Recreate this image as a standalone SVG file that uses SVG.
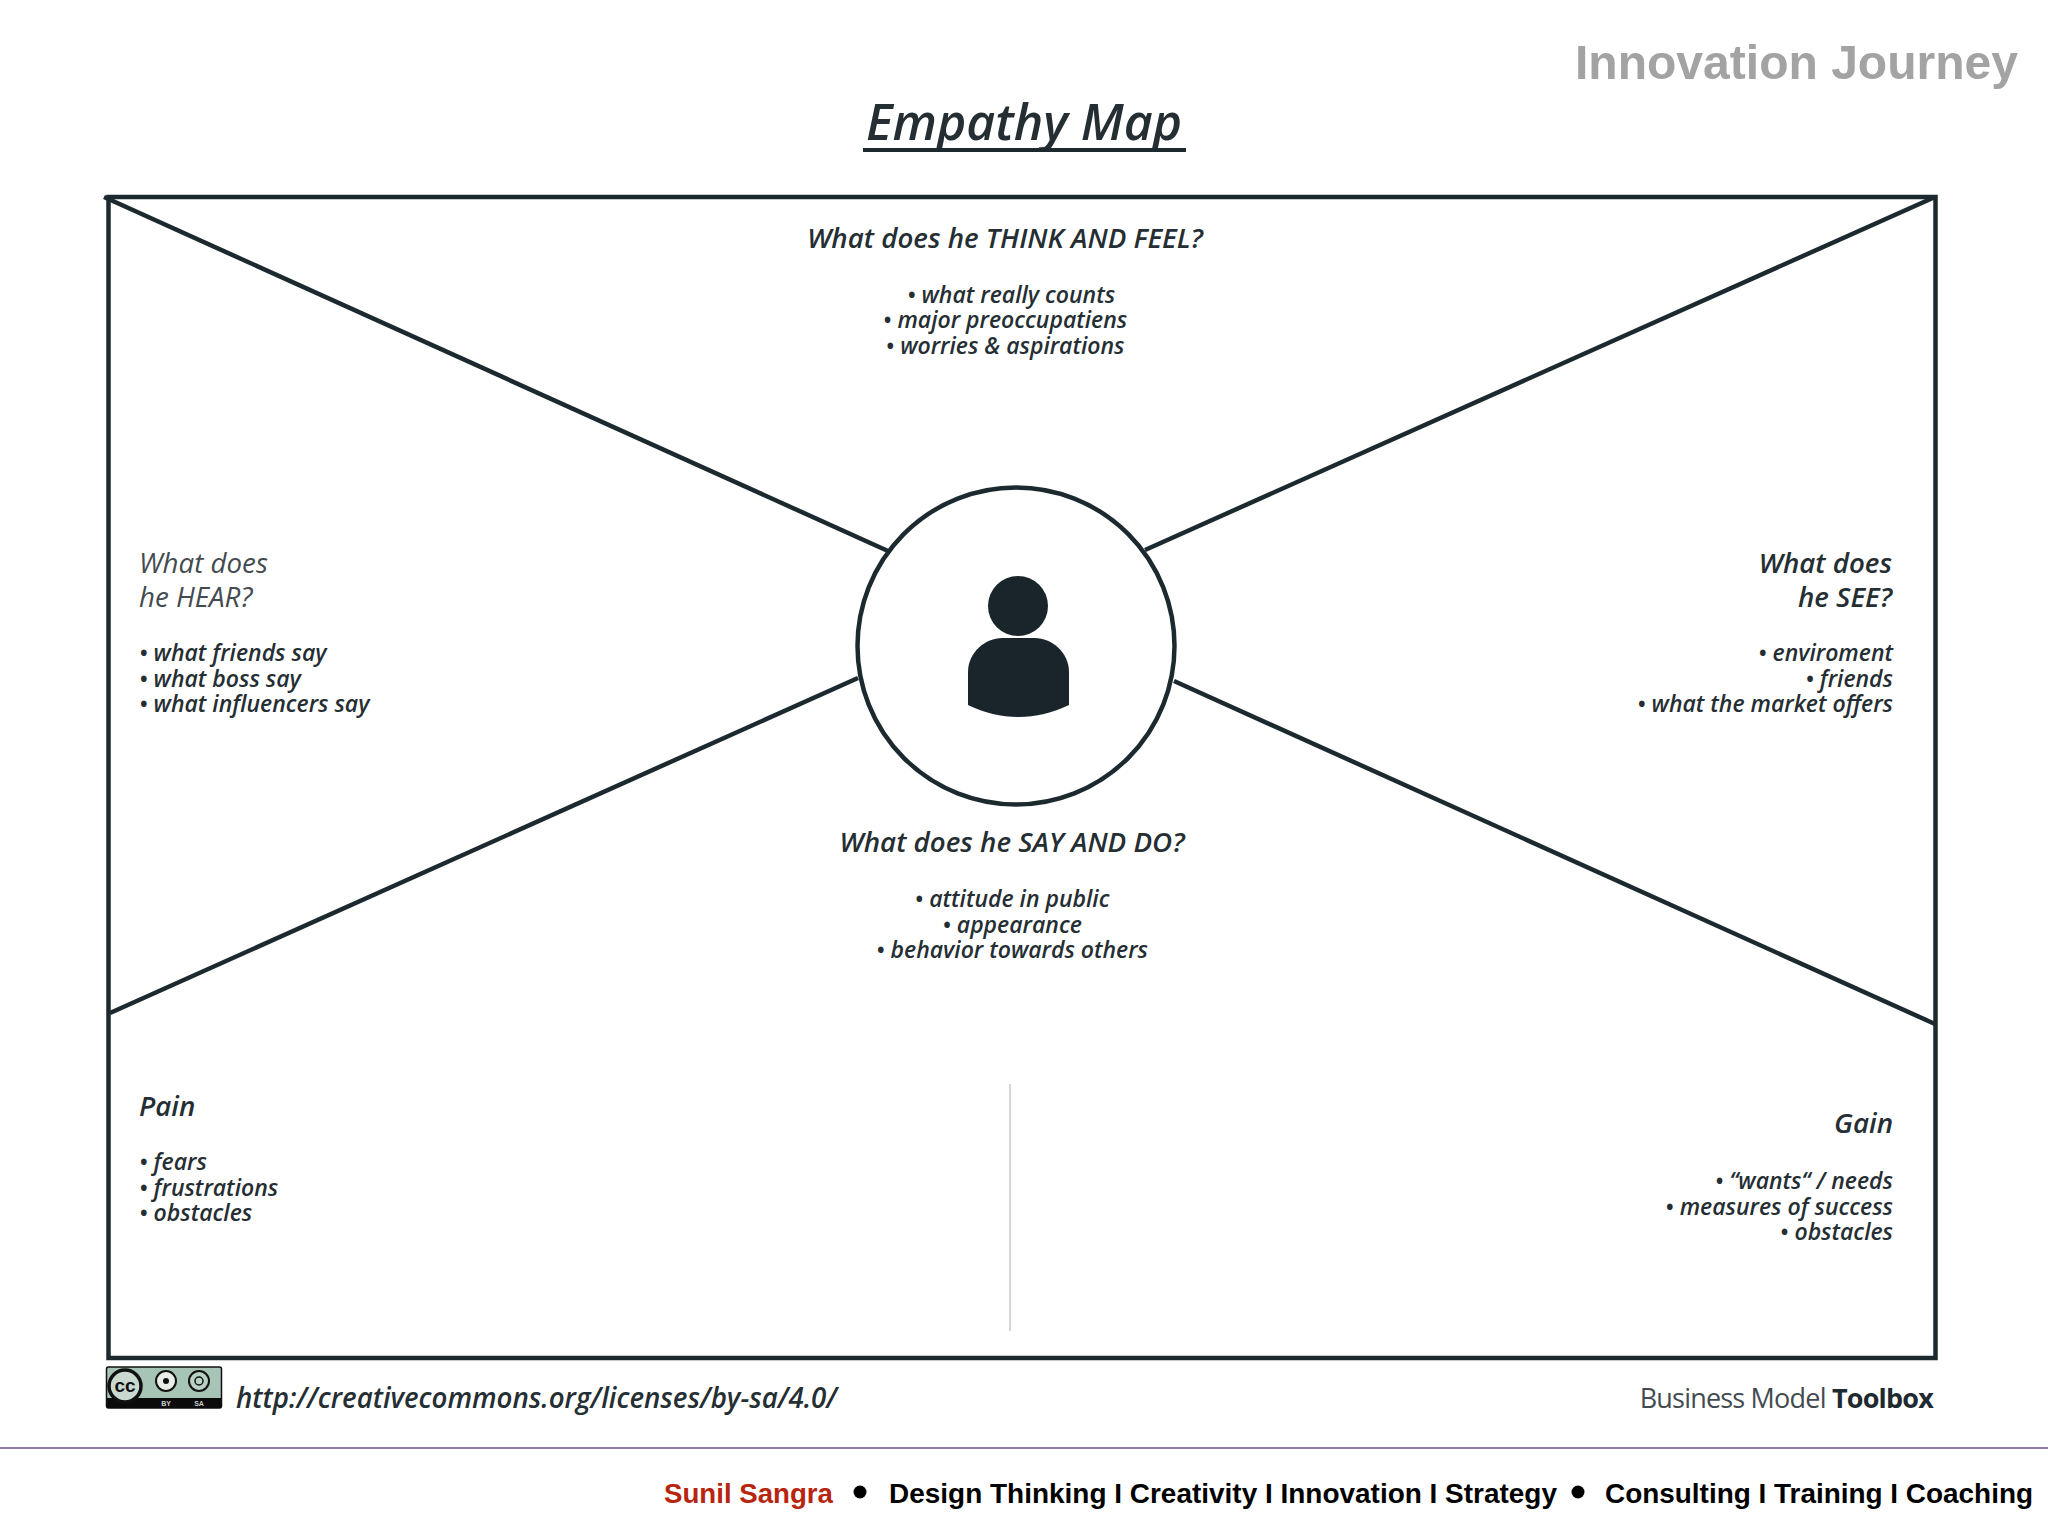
<svg xmlns="http://www.w3.org/2000/svg" width="2048" height="1536" viewBox="0 0 2048 1536">
<style>
text{font-family:"Open Sans","Noto Sans",sans-serif;fill:#252e33}
.h{font-size:27.7px;font-style:italic;font-weight:600}
.hl{font-size:27.7px;font-style:italic;font-weight:400;fill:#444b50}
.b{font-size:23px;font-style:italic;font-weight:600}
.m{text-anchor:middle}
.e{text-anchor:end}
.a{font-family:"Liberation Sans",Arial,sans-serif;font-weight:700;fill:#000;font-size:28px}
.l{stroke:#1c2a30;fill:none}
</style>
<rect width="2048" height="1536" fill="#fff"/>
<g id="header">
<text x="1575" y="79" textLength="443" lengthAdjust="spacingAndGlyphs" style="font-family:'Liberation Sans',Arial,sans-serif;font-weight:700;font-size:49px;fill:#a3a3a3">Innovation Journey</text>
<text x="1024" y="140" class="m" style="font-size:50px;font-style:italic;font-weight:600">Empathy Map</text>
<rect x="863" y="148" width="323" height="4" fill="#1c2a30"/>
</g>
<g id="connectors">
<rect class="l" x="108.500" y="197" width="1827" height="1161" stroke-width="4.500"/>
<line class="l" stroke-width="4.500" x1="104" y1="197" x2="888" y2="551"/>
<line class="l" stroke-width="4.500" x1="1935" y1="197" x2="1145" y2="550"/>
<line class="l" stroke-width="4.500" x1="110" y1="1013" x2="858" y2="678"/>
<line class="l" stroke-width="4.500" x1="1935" y1="1024" x2="1174" y2="681"/>
<line x1="1010" y1="1084" x2="1010" y2="1331" stroke="#c9c9c9" stroke-width="1.500"/>
</g>
<g id="persona">
<circle class="l" cx="1016" cy="646" r="158.500" stroke-width="4.500"/>
<circle cx="1018" cy="606" r="30" fill="#1a252b"/>
<path d="M968 705V672C968 652 986 638 1002 638H1035C1051 638 1069 652 1069 672V705C1036 721 1001 721 968 705Z" fill="#1a252b"/>
</g>
<g id="think">
<text x="1005" y="248" class="h m">What does he THINK AND FEEL?</text>
<text x="1011" y="303" class="b m">• what really counts</text>
<text x="1005" y="328" class="b m">• major preoccupatiens</text>
<text x="1005" y="354" class="b m">• worries &amp; aspirations</text>
</g>
<g id="hear">
<text x="139" y="573" class="hl">What does</text>
<text x="139" y="607" class="hl">he HEAR?</text>
<text x="139" y="661" class="b">• what friends say</text>
<text x="139" y="687" class="b">• what boss say</text>
<text x="139" y="712" class="b">• what influencers say</text>
</g>
<g id="see">
<text x="1892" y="573" class="h e">What does</text>
<text x="1892" y="607" class="h e">he SEE?</text>
<text x="1893" y="661" class="b e">• enviroment</text>
<text x="1893" y="687" class="b e">• friends</text>
<text x="1893" y="712" class="b e">• what the market offers</text>
</g>
<g id="say">
<text x="1012" y="852" class="h m">What does he SAY AND DO?</text>
<text x="1012" y="907" class="b m">• attitude in public</text>
<text x="1012" y="933" class="b m">• appearance</text>
<text x="1012" y="958" class="b m">• behavior towards others</text>
</g>
<g id="pain">
<text x="139" y="1116" class="h">Pain</text>
<text x="139" y="1170" class="b">• fears</text>
<text x="139" y="1196" class="b">• frustrations</text>
<text x="139" y="1221" class="b">• obstacles</text>
</g>
<g id="gain">
<text x="1893" y="1133" class="h e">Gain</text>
<text x="1893" y="1189" class="b e">• “wants“ / needs</text>
<text x="1893" y="1215" class="b e">• measures of success</text>
<text x="1893" y="1240" class="b e">• obstacles</text>
</g>
<g id="license">
<rect x="106.500" y="1367" width="115" height="41" rx="2" fill="#a7c5b6" stroke="#111" stroke-width="1.500"/>
<rect x="107" y="1398" width="114" height="10" fill="#0b0b0b"/>
<circle cx="125" cy="1386" r="16" fill="#c9d9d0" stroke="#111" stroke-width="3.500"/>
<text x="125" y="1392" class="m" style="font-family:'Liberation Sans',sans-serif;font-weight:700;font-size:19px;fill:#111">cc</text>
<circle cx="166" cy="1381" r="10" fill="#e8efe9" stroke="#111" stroke-width="2"/>
<circle cx="166" cy="1381" r="3" fill="#111"/>
<circle cx="199" cy="1381" r="10" fill="#b9d0c4" stroke="#111" stroke-width="2"/>
<circle cx="199" cy="1381" r="4" fill="none" stroke="#111" stroke-width="1.500"/>
<text x="166" y="1406" class="m" style="font-family:'Liberation Sans',sans-serif;font-weight:700;font-size:7px;fill:#ccc">BY</text>
<text x="199" y="1406" class="m" style="font-family:'Liberation Sans',sans-serif;font-weight:700;font-size:7px;fill:#ccc">SA</text>
<text x="236" y="1408" textLength="601" lengthAdjust="spacingAndGlyphs" style="font-size:28px;font-style:italic;font-weight:600">http://creativecommons.org/licenses/by-sa/4.0/</text>
<text x="1933" y="1408" class="e" style="font-size:27px;fill:#444b50;letter-spacing:-0.8px">Business Model <tspan style="font-weight:700;fill:#1f2a30">Toolbox</tspan></text>
</g>
<g id="footer">
<line x1="0" y1="1448" x2="2048" y2="1448" stroke="#6f4f93" stroke-width="1.500"/>
<text x="664" y="1503" class="a" textLength="169" lengthAdjust="spacingAndGlyphs" style="fill:#b8250f">Sunil Sangra</text>
<circle cx="860" cy="1492" r="6.500" fill="#000"/>
<text x="889" y="1503" class="a" textLength="668" lengthAdjust="spacingAndGlyphs">Design Thinking I Creativity I Innovation I Strategy</text>
<circle cx="1578" cy="1492" r="6.500" fill="#000"/>
<text x="1605" y="1503" class="a" textLength="428" lengthAdjust="spacingAndGlyphs">Consulting I Training I Coaching</text>
</g>
</svg>
